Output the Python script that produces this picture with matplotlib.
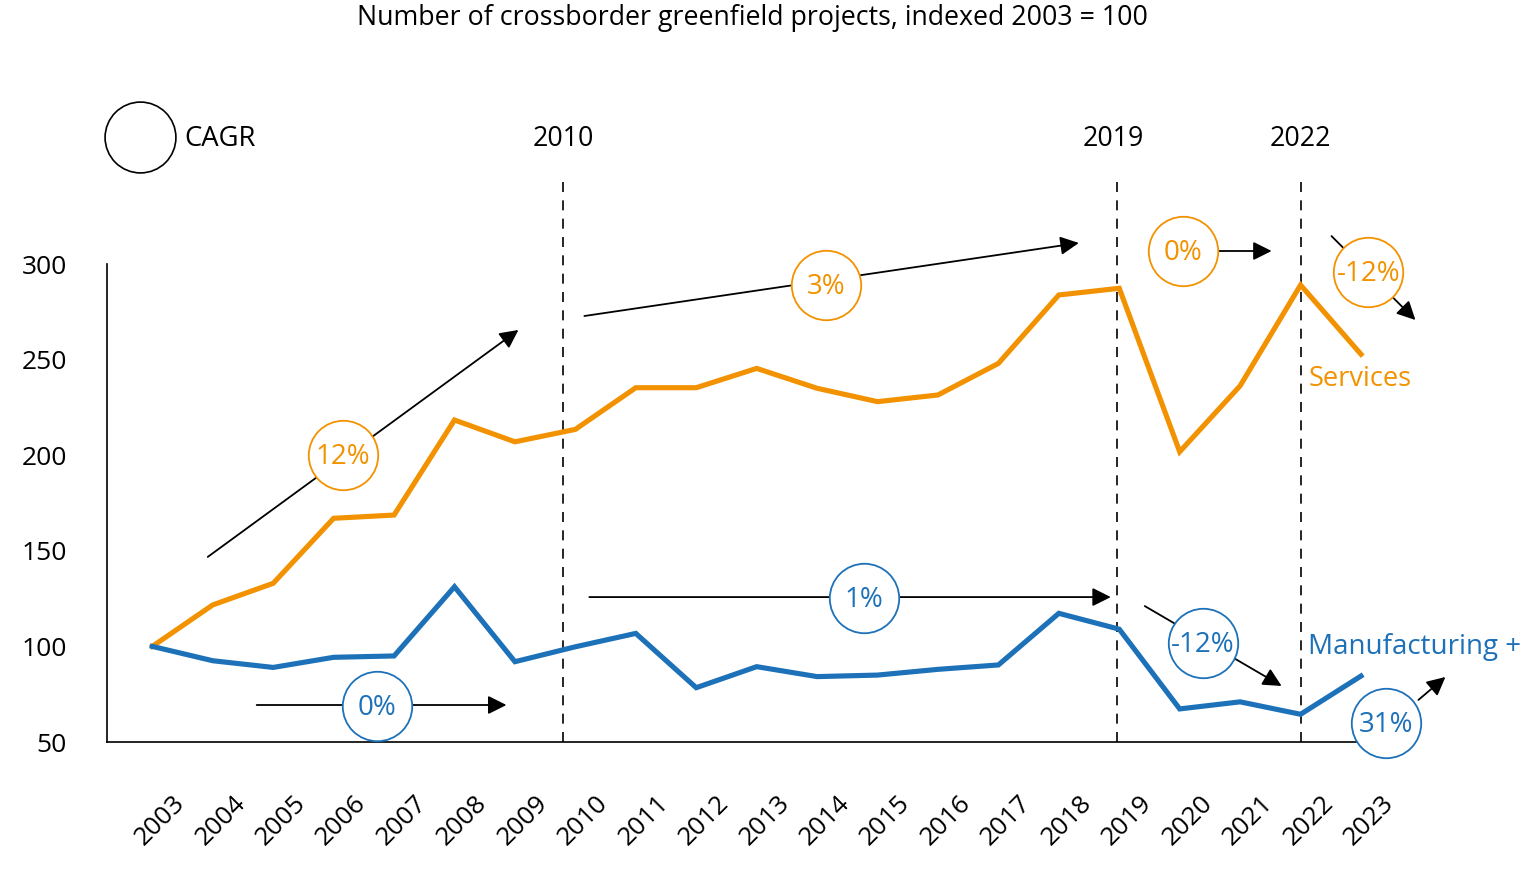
import matplotlib
matplotlib.use("Agg")
import matplotlib.pyplot as plt
import matplotlib.transforms as mtransforms

plt.rcParams['font.family'] = ['Open Sans', 'DejaVu Sans']

# ---------------- data ----------------
years = list(range(2003, 2024))
services = [100, 121.7, 133, 167, 168.7, 218.4, 207, 213.5, 235.3, 235.3, 245.4,
            235, 228, 231.5, 248, 283.8, 287.3, 201.8, 236.3, 289, 252.8]
manufacturing = [100, 92.5, 89, 94.3, 95, 131.2, 92, 99.8, 106.8, 78.4, 89.4,
                 84.2, 85, 88, 90.3, 117.3, 109, 67.3, 71, 64.5, 84.5]

title = "Number of crossborder greenfield projects, indexed 2003 = 100"
y_ticks = [50, 100, 150, 200, 250, 300]

period_lines = [2009.8, 2018.97, 2022.0]
period_labels = ["2010", "2019", "2022"]
period_label_x = [2009.8, 2018.9, 2022.0]
period_line_top = 344
period_label_y = 365.5

# CAGR annotations: label, series, circle (x, y), arrow start, arrow end
cagr_labels = ["12%", "0%", "3%", "1%", "0%", "-12%", "-12%", "31%"]
cagr_series = ["s", "m", "s", "m", "s", "s", "m", "m"]
cagr_circle = [(2006.149, 200.1), (2006.711, 68.8), (2014.149, 289.0), (2014.777, 125.3),
               (2020.050, 306.8), (2023.124, 295.8), (2020.380, 101.8), (2023.421, 59.9)]
cagr_start = [(2003.917, 146.8), (2004.727, 69.35), (2010.149, 272.8), (2010.231, 125.8),
              (2020.612, 306.8), (2022.512, 314.6), (2019.422, 121.1), (2023.950, 72.0)]
cagr_end = [(2009.058, 265.5), (2008.860, 69.35), (2018.331, 311.0), (2018.860, 125.8),
            (2021.521, 306.8), (2023.901, 270.7), (2021.686, 79.3), (2024.397, 84.0)]

legend_circle = (2002.793, 366.4)
legend_text_x = 2003.537

series_label_x = 2022.13
services_label_y = 239.6
manufacturing_label_y = 99.6

ORANGE = "#F39200"
BLUE = "#1D71B8"
colors = {"s": ORANGE, "m": BLUE}

# ---------------- figure ----------------
fig = plt.figure(figsize=(15.36, 8.96), dpi=100)
ax = fig.add_axes([107 / 1536, 1 - 742 / 896, 1254 / 1536, 478 / 896])
ax.set_xlim(2002.25, 2023)
ax.set_ylim(50, 300)

ax.plot(years, services, color=ORANGE, lw=3.7, solid_joinstyle='miter', zorder=3, clip_on=False)
ax.plot(years, manufacturing, color=BLUE, lw=3.7, solid_joinstyle='miter', zorder=3, clip_on=False)

for sp in ["top", "right"]:
    ax.spines[sp].set_visible(False)
for sp in ["left", "bottom"]:
    ax.spines[sp].set_linewidth(1.2)
    ax.spines[sp].set_color("black")

ax.set_yticks(y_ticks)
ax.set_yticklabels([str(v) for v in y_ticks], fontsize=19)
ax.set_xticks(years)
ax.set_xticklabels([str(y) for y in years], fontsize=18.7, rotation=45, ha='center', va='top')
ax.tick_params(axis='y', length=0, pad=29)
ax.tick_params(axis='x', length=0, pad=35)
offset = mtransforms.ScaledTranslation(8 / 100, 0, fig.dpi_scale_trans)
for lab in ax.get_xticklabels():
    lab.set_transform(lab.get_transform() + offset)

# period dashed lines and labels
for xv, xl, lbl in zip(period_lines, period_label_x, period_labels):
    ax.plot([xv, xv], [50, period_line_top], color="black", lw=1.2,
            dashes=(6, 5), clip_on=False, zorder=2)
    ax.text(xl, period_label_y, lbl, ha='center', va='center', fontsize=19.3, clip_on=False)

# CAGR legend
ax.plot([legend_circle[0]], [legend_circle[1]], marker='o', markersize=51,
        mfc='white', mec='black', mew=1.2, clip_on=False, zorder=5)
ax.text(legend_text_x, legend_circle[1] - 0.8, "CAGR", ha='left', va='center', fontsize=19.8, clip_on=False)

# CAGR arrows and circles
for lbl, s, c, st, en in zip(cagr_labels, cagr_series, cagr_circle, cagr_start, cagr_end):
    col = colors[s]
    ax.annotate("", xy=en, xytext=st, xycoords='data', textcoords='data',
                arrowprops=dict(arrowstyle='-|>', lw=1.3, color='black',
                                mutation_scale=28, shrinkA=0, shrinkB=0),
                annotation_clip=False, zorder=4)
    ax.plot([c[0]], [c[1]], marker='o', markersize=50, mfc='white', mec=col,
            mew=1.3, clip_on=False, zorder=5)
    ax.text(c[0], c[1] - 1.0, lbl, ha='center', va='center', fontsize=20, color=col,
            clip_on=False, zorder=6)

# series labels
ax.text(series_label_x, services_label_y, "Services", color=ORANGE, fontsize=19.6,
        ha='left', va='center', clip_on=False)
ax.text(series_label_x, manufacturing_label_y, "Manufacturing +", color=BLUE, fontsize=20,
        ha='left', va='center', clip_on=False)

fig.text(752 / 1536, 1 - 18 / 896, title, ha='center', va='center', fontsize=19.3)

fig.savefig("out.png", dpi=100, facecolor='white')
